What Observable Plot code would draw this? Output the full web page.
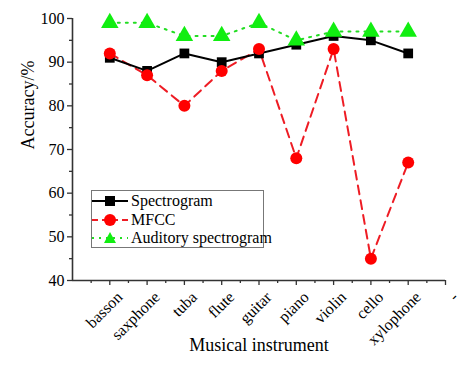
<!DOCTYPE html>
<html><head><meta charset="utf-8">
<script src="https://cdn.jsdelivr.net/npm/d3@7"></script>
<script src="https://cdn.jsdelivr.net/npm/@observablehq/plot@0.6"></script>
<style>
body{margin:0;background:#fff;font-family:"Liberation Serif",serif;}
#wrap{position:relative;width:474px;height:367px;}
#wrap svg text{font-family:"Liberation Serif","Times New Roman",serif !important;}
#legend{position:absolute;left:91px;top:190px;width:173px;height:58px;border:1px solid #777;background:#fff;font-family:"Liberation Serif","Times New Roman",serif;font-size:16px;color:#000;box-sizing:border-box;padding-top:1px;}
#legend div{height:18.5px;line-height:18.5px;white-space:nowrap;display:flex;align-items:center;}
#legend svg{flex:none;margin-right:3px;}
</style></head>
<body><div id="wrap"></div>
<script>
const instruments = ["basson","saxphone","tuba","flute","guitar","piano","violin","cello","xylophone"];
const tickLabels = ["basson","saxphone","tuba","flute","guitar","piano","violin","cello","xylophone","-"];
const spectrogram = [91,88,92,90,92,94,96,95,92];
const mfcc = [92,87,80,88,93,68,93,45,67];
const auditory = [99,99,96,96,99,95,97,97,97];
const seriesNames = ["Spectrogram","MFCC","Auditory spectrogram"];
const yTicks = [40,50,60,70,80,90,100];

const data = [];
[spectrogram, mfcc, auditory].forEach((vals, s) => vals.forEach((v, i) => data.push({series: seriesNames[s], idx: i + 1, name: instruments[i], value: v})));
const bySeries = name => data.filter(d => d.series === name);
const xTicks = tickLabels.map((label, i) => ({pos: i + 1, label}));

const font = "Liberation Serif";
const minorX = d3.range(0.5, 10.01, 1);
const minorY = d3.range(45, 100, 10);

const chart = Plot.plot({
  width: 474, height: 367,
  marginLeft: 72, marginRight: 29, marginTop: 18, marginBottom: 87,
  style: {fontFamily: font, fontSize: "16px", color: "#000", background: "#fff", overflow: "visible"},
  x: {domain: [0, 10]},
  y: {domain: [40, 100]},
  marks: [
    Plot.axisY({ticks: yTicks, tickSize: 5, tickPadding: 3, label: null, fontSize: 16, strokeWidth: 1.3, stroke: "#333", fill: "#000"}),
    Plot.axisY({ticks: minorY, tickSize: 3, tickFormat: () => "", label: null, strokeWidth: 1.3, stroke: "#333"}),
    Plot.axisX({ticks: d3.range(1, 11), tickSize: 5, tickFormat: () => "", label: null, strokeWidth: 1.3, stroke: "#333"}),
    Plot.axisX({ticks: minorX, tickSize: 3, tickFormat: () => "", label: null, strokeWidth: 1.3, stroke: "#333"}),
    Plot.text(xTicks, {x: "pos", text: "label", frameAnchor: "bottom", rotate: -45, textAnchor: "end", lineAnchor: "middle", dx: 10, dy: 14, fontSize: 16, fill: "#000"}),
    Plot.ruleY([40], {stroke: "#333", strokeWidth: 1.6}),
    Plot.ruleX([0], {stroke: "#333", strokeWidth: 1.6}),
    Plot.line(bySeries("Auditory spectrogram"), {x: "idx", y: "value", stroke: "#22dd22", strokeWidth: 2, strokeDasharray: "2,6"}),
    Plot.line(bySeries("MFCC"), {x: "idx", y: "value", stroke: "#ee1c24", strokeWidth: 2, strokeDasharray: "9,6"}),
    Plot.line(bySeries("Spectrogram"), {x: "idx", y: "value", stroke: "#000", strokeWidth: 2}),
    Plot.dot(bySeries("Spectrogram"), {x: "idx", y: "value", symbol: "square", r: 5.5, fill: "#000"}),
    Plot.dot(bySeries("MFCC"), {x: "idx", y: "value", symbol: "circle", r: 6, fill: "#ff0000"}),
    Plot.dot(bySeries("Auditory spectrogram"), {x: "idx", y: "value", symbol: "triangle", r: 6.5, fill: "#11ee11"}),
    Plot.text(["Accuracy/%"], {frameAnchor: "left", dx: -44, rotate: -90, fontSize: 18, fill: "#000"}),
    Plot.text(["Musical instrument"], {frameAnchor: "bottom", dy: 70, dx: 0, fontSize: 18, fill: "#000"})
  ]
});
const wrap = document.getElementById("wrap");
wrap.appendChild(chart);

// legend
const leg = document.createElement("div");
leg.id = "legend";
const samples = [
  {name: seriesNames[0], stroke: "#000", dash: "", marker: '<rect x="13" y="4" width="10" height="10" fill="#000"/>'},
  {name: seriesNames[1], stroke: "#ee1c24", dash: "6,4", marker: '<circle cx="18" cy="9" r="6" fill="#ff0000"/>'},
  {name: seriesNames[2], stroke: "#22dd22", dash: "2,5", marker: '<path d="M18,3 L24,14 L12,14 Z" fill="#11ee11"/>'}
];
samples.forEach(s => {
  const row = document.createElement("div");
  row.innerHTML = `<svg width="36" height="18"><line x1="0" y1="9" x2="36" y2="9" stroke="${s.stroke}" stroke-width="2" stroke-dasharray="${s.dash}"/>${s.marker}</svg><span>${s.name}</span>`;
  leg.appendChild(row);
});
wrap.appendChild(leg);
</script></body></html>
